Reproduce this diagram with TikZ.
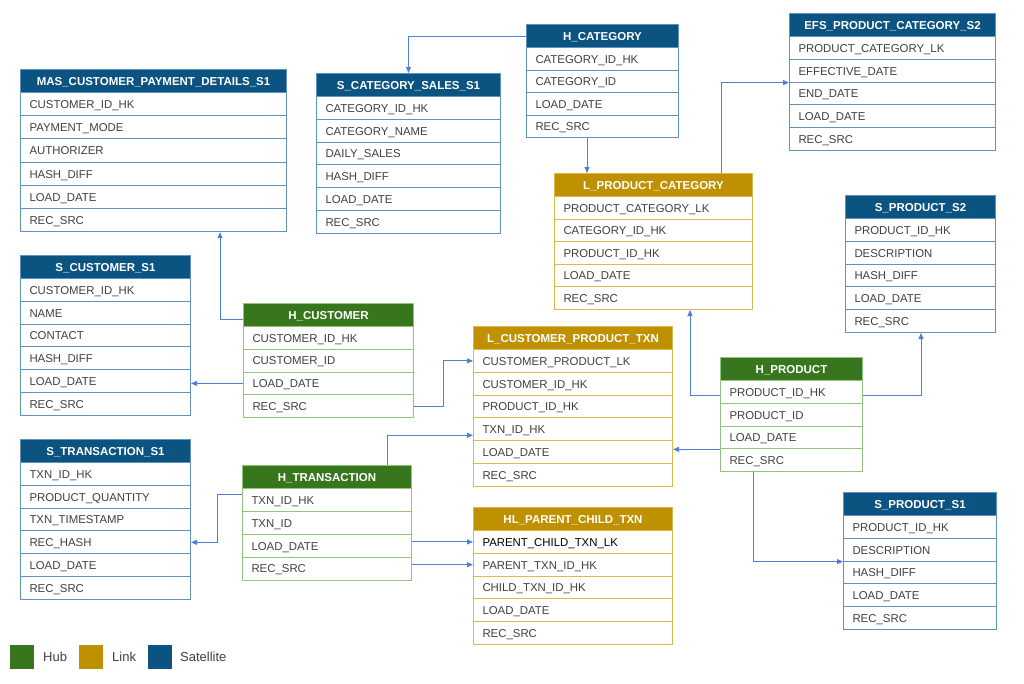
\documentclass[tikz,border=0pt]{standalone}
\usepackage{fontspec}
\setmainfont{Liberation Sans}
\usetikzlibrary{calc,arrows.meta}
\definecolor{hubhead}{HTML}{38761D}
\definecolor{hubline}{HTML}{93C47D}
\definecolor{linkhead}{HTML}{BF9000}
\definecolor{linkline}{HTML}{E2B84A}
\definecolor{sathead}{HTML}{0B5482}
\definecolor{satline}{HTML}{5F92BD}
\definecolor{conncol}{HTML}{4F7FD6}
\definecolor{rowtext}{HTML}{404040}
\newcommand{\dvtab}[8]{%
  \pgfmathsetmacro\dvtw{#4-18}%
  \node[headbox, fill=#6head, draw=#6line, minimum width=#4pt] (#1) at (#2,#3) {#7};
  \foreach \rowtxt [count=\ri] in {#8}{
    \node[rowbox, draw=#6line, text width=\dvtw pt, minimum height=#5pt] (#1-\ri) at ($(#2,#3)+(0,{23+#5*(\ri-1)})$) {\rowtxt};
  }
}
\begin{document}
\begin{tikzpicture}[x=1pt,y=-1pt,
  headbox/.style={anchor=north west, minimum height=23pt, inner sep=0pt, line width=1pt,
    text=white, font=\fontsize{11.5}{13}\selectfont\bfseries, text height=8.3pt, text depth=0pt},
  rowbox/.style={anchor=north west, fill=white, inner xsep=9pt, inner ysep=0pt, line width=1pt,
    align=left, text=rowtext, font=\fontsize{11.4}{13}\selectfont, text height=8.6pt, text depth=0pt},
  conn/.style={draw=conncol, line width=0.9pt, -{Triangle[length=6pt,width=5pt]}},
  legsq/.style={anchor=north west, minimum size=23pt, inner sep=0pt, line width=0.6pt},
  legtxt/.style={anchor=west, inner sep=0pt, text=rowtext, font=\fontsize{13}{15}\selectfont, text height=9.3pt, text depth=0pt}
]
\useasboundingbox[fill=white] (0,0) rectangle (1024,683);

\dvtab{mas}{20}{69}{266}{23.2}{sat}{MAS\_CUSTOMER\_PAYMENT\_DETAILS\_S1}{CUSTOMER\_ID\_HK,PAYMENT\_MODE,AUTHORIZER,HASH\_DIFF,LOAD\_DATE,REC\_SRC}
\dvtab{scat}{316}{73}{184}{22.8}{sat}{S\_CATEGORY\_SALES\_S1}{CATEGORY\_ID\_HK,CATEGORY\_NAME,DAILY\_SALES,HASH\_DIFF,LOAD\_DATE,REC\_SRC}
\dvtab{hcat}{526}{24}{152}{22.5}{sat}{H\_CATEGORY}{CATEGORY\_ID\_HK,CATEGORY\_ID,LOAD\_DATE,REC\_SRC}
\dvtab{efs}{789}{13}{206}{22.8}{sat}{EFS\_PRODUCT\_CATEGORY\_S2}{PRODUCT\_CATEGORY\_LK,EFFECTIVE\_DATE,END\_DATE,LOAD\_DATE,REC\_SRC}
\dvtab{lpc}{554}{173}{198}{22.6}{link}{L\_PRODUCT\_CATEGORY}{PRODUCT\_CATEGORY\_LK,CATEGORY\_ID\_HK,PRODUCT\_ID\_HK,LOAD\_DATE,REC\_SRC}
\dvtab{sptwo}{845}{195}{150}{22.8}{sat}{S\_PRODUCT\_S2}{PRODUCT\_ID\_HK,DESCRIPTION,HASH\_DIFF,LOAD\_DATE,REC\_SRC}
\dvtab{scust}{20}{255}{170}{22.8}{sat}{S\_CUSTOMER\_S1}{CUSTOMER\_ID\_HK,NAME,CONTACT,HASH\_DIFF,LOAD\_DATE,REC\_SRC}
\dvtab{hcust}{243}{303}{170}{22.75}{hub}{H\_CUSTOMER}{CUSTOMER\_ID\_HK,CUSTOMER\_ID,LOAD\_DATE,REC\_SRC}
\dvtab{lcpt}{473}{326}{199}{22.8}{link}{L\_CUSTOMER\_PRODUCT\_TXN}{CUSTOMER\_PRODUCT\_LK,CUSTOMER\_ID\_HK,PRODUCT\_ID\_HK,TXN\_ID\_HK,LOAD\_DATE,REC\_SRC}
\dvtab{hprod}{720}{357}{142}{22.8}{hub}{H\_PRODUCT}{PRODUCT\_ID\_HK,PRODUCT\_ID,LOAD\_DATE,REC\_SRC}
\dvtab{strans}{20}{439}{170}{22.8}{sat}{S\_TRANSACTION\_S1}{TXN\_ID\_HK,PRODUCT\_QUANTITY,TXN\_TIMESTAMP,REC\_HASH,LOAD\_DATE,REC\_SRC}
\dvtab{htxn}{242}{465}{169}{22.9}{hub}{H\_TRANSACTION}{TXN\_ID\_HK,TXN\_ID,LOAD\_DATE,REC\_SRC}
\dvtab{hl}{473}{507}{199}{22.8}{link}{HL\_PARENT\_CHILD\_TXN}{{\color{black}PARENT\_CHILD\_TXN\_LK},PARENT\_TXN\_ID\_HK,CHILD\_TXN\_ID\_HK,LOAD\_DATE,REC\_SRC}
\dvtab{spone}{843}{492}{153}{22.8}{sat}{S\_PRODUCT\_S1}{PRODUCT\_ID\_HK,DESCRIPTION,HASH\_DIFF,LOAD\_DATE,REC\_SRC}

% connectors
\draw[conn] (hcat.west) -| (scat.north);
\draw[conn] ([xshift=61pt]hcat-4.south west) -- ([xshift=61pt]hcat-4.south west |- lpc.north);
\draw[conn] ([xshift=-32pt]lpc.north east) |- (efs-2.south west);
\draw[conn] ([yshift=-4pt]hcust.west) -| ([xshift=200pt]mas-6.south west);
\draw[conn] (hcust-3.west) -- (hcust-3.west -| scust.east);
\draw[conn] (hcust-4.east) -- ++(29,0) |- (lcpt-1.west);
\draw[conn] ([xshift=-25pt]htxn.north east) |- ([yshift=-6pt]lcpt-4.west);
\draw[conn] ([yshift=6pt]htxn-1.west) -- ++(-25,0) |- (strans-4.east);
\draw[conn] (hl-1.west -| htxn-3.east) -- (hl-1.west);
\draw[conn] (hl-2.west -| htxn-4.east) -- (hl-2.west);
\draw[conn] (hprod-3.south west) -- (hprod-3.south west -| lcpt.east);
\draw[conn] ([yshift=-4pt]hprod-1.west) -| ([xshift=136pt]lpc-5.south west);
\draw[conn] ([yshift=-4pt]hprod-1.east) -| ([xshift=76pt]sptwo-5.south west);
\draw[conn] ([xshift=33pt]hprod-4.south west) |- (spone-2.south west);

% legend
\node[legsq, fill=hubhead, draw=hubhead] (lhub) at (10,645) {};
\node[legtxt] (lhubt) at (43,657) {Hub};
\node[legsq, fill=linkhead, draw=linkhead] (llink) at (79,645) {};
\node[legtxt] (llinkt) at (112,657) {Link};
\node[legsq, fill=sathead, draw=sathead] (lsat) at (148,645) {};
\node[legtxt] (lsatt) at (180,657) {Satellite};
\end{tikzpicture}
\end{document}
